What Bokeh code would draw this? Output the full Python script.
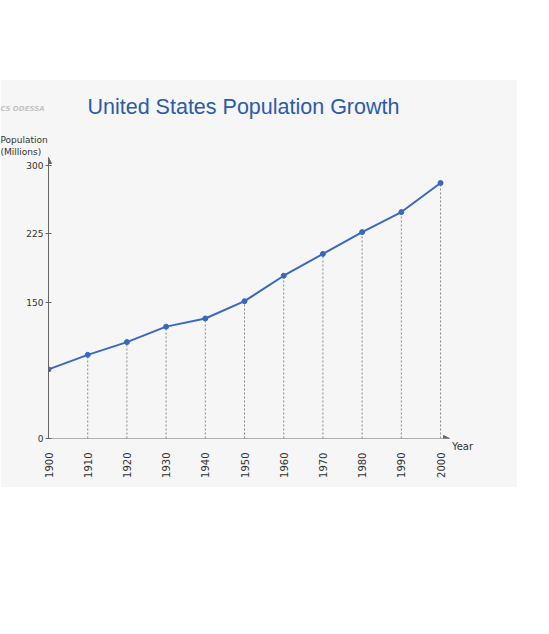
import math
from bokeh.plotting import figure
from bokeh.layouts import column
from bokeh.models import Spacer, Arrow, NormalHead, FixedTicker, Range1d, Title
from bokeh.embed import file_html
from bokeh.resources import INLINE

years = [1900, 1910, 1920, 1930, 1940, 1950, 1960, 1970, 1980, 1990, 2000]
population = [76, 92, 106, 123, 132, 151, 179, 203, 227, 249, 281]
y_ticks = [0, 150, 225, 300]
title_text = "United States Population Growth"
y_title = "Population\n(Millions)"
x_title = "Year"
watermark = "CS ODESSA"

BG = "#f6f6f6"
AX = "#666666"
BLUE = "#3a68bf"

x_axis_end = 2002.3
x_end = 2005.6
y_end = 309

p = figure(width=517, height=408, output_backend="svg", toolbar_location=None, title=None,
           x_range=Range1d(1900, x_end), y_range=Range1d(0, y_end),
           min_border_left=48, min_border_right=55, min_border_top=77, min_border_bottom=49,
           background_fill_color=BG, border_fill_color=BG, outline_line_color=None)
p.grid.visible = False

# titles above the frame (first added = closest to the frame)
p.add_layout(Title(text=y_title, align="left", offset=-48, text_font="DejaVu Sans",
                   text_font_size="9px", text_font_style="normal", text_color="#333333",
                   text_line_height=1.15, standoff=2), "above")
p.add_layout(Title(text=title_text, align="left", offset=39, text_font="Liberation Sans",
                   text_font_size="21.5px", text_font_style="normal", text_color="#2c5ba8",
                   standoff=26), "above")
p.add_layout(Title(text=watermark, align="left", offset=-48, text_font="DejaVu Sans",
                   text_font_size="7px", text_font_style="bold italic", text_color="#c4c4c4",
                   standoff=-66), "above")

# axes
p.xaxis.ticker = FixedTicker(ticks=years)
p.xaxis.major_label_orientation = math.pi / 2
p.xaxis.major_tick_line_color = None
p.xaxis.minor_tick_line_color = None
p.xaxis.major_label_standoff = 8
p.xaxis.axis_line_color = None
p.xaxis.axis_label = x_title
p.xaxis.axis_label_align = "end"
p.xaxis.axis_label_standoff = -40
p.xaxis.axis_label_text_font = "DejaVu Sans"
p.xaxis.axis_label_text_font_size = "10px"
p.xaxis.axis_label_text_font_style = "normal"
p.xaxis.axis_label_text_color = "#333333"
p.yaxis.ticker = FixedTicker(ticks=y_ticks)
p.yaxis.major_tick_in = 3
p.yaxis.major_tick_out = 3
p.yaxis.minor_tick_line_color = None
p.yaxis.major_label_standoff = 2
p.yaxis.axis_line_color = AX
p.yaxis.major_tick_line_color = AX
for ax in (p.xaxis[0], p.yaxis[0]):
    ax.major_label_text_font = "DejaVu Sans"
    ax.major_label_text_color = "#333333"
p.xaxis.major_label_text_font_size = "10px"
p.yaxis.major_label_text_font_size = "9px"

# axis lines with arrow heads
p.add_layout(Arrow(end=NormalHead(size=6, fill_color=AX, line_color=AX),
                   x_start=1900, y_start=0, x_end=x_axis_end, y_end=0,
                   line_color=AX, line_width=1))
p.add_layout(Arrow(end=NormalHead(size=6, fill_color=AX, line_color=AX),
                   x_start=1900, y_start=0, x_end=1900, y_end=y_end,
                   line_color=AX, line_width=1))

# drop lines
p.segment(x0=years, y0=[0] * len(years), x1=years, y1=population,
          line_color="#8a8a8a", line_dash="2 2", line_width=1)

# series
p.line(years, population, line_color=BLUE, line_width=2)
p.scatter(years, population, size=5, fill_color=BLUE, line_color=BLUE)

layout = column(Spacer(height=79, width=517), p)
open("out.html", "w").write(file_html(layout, INLINE))
